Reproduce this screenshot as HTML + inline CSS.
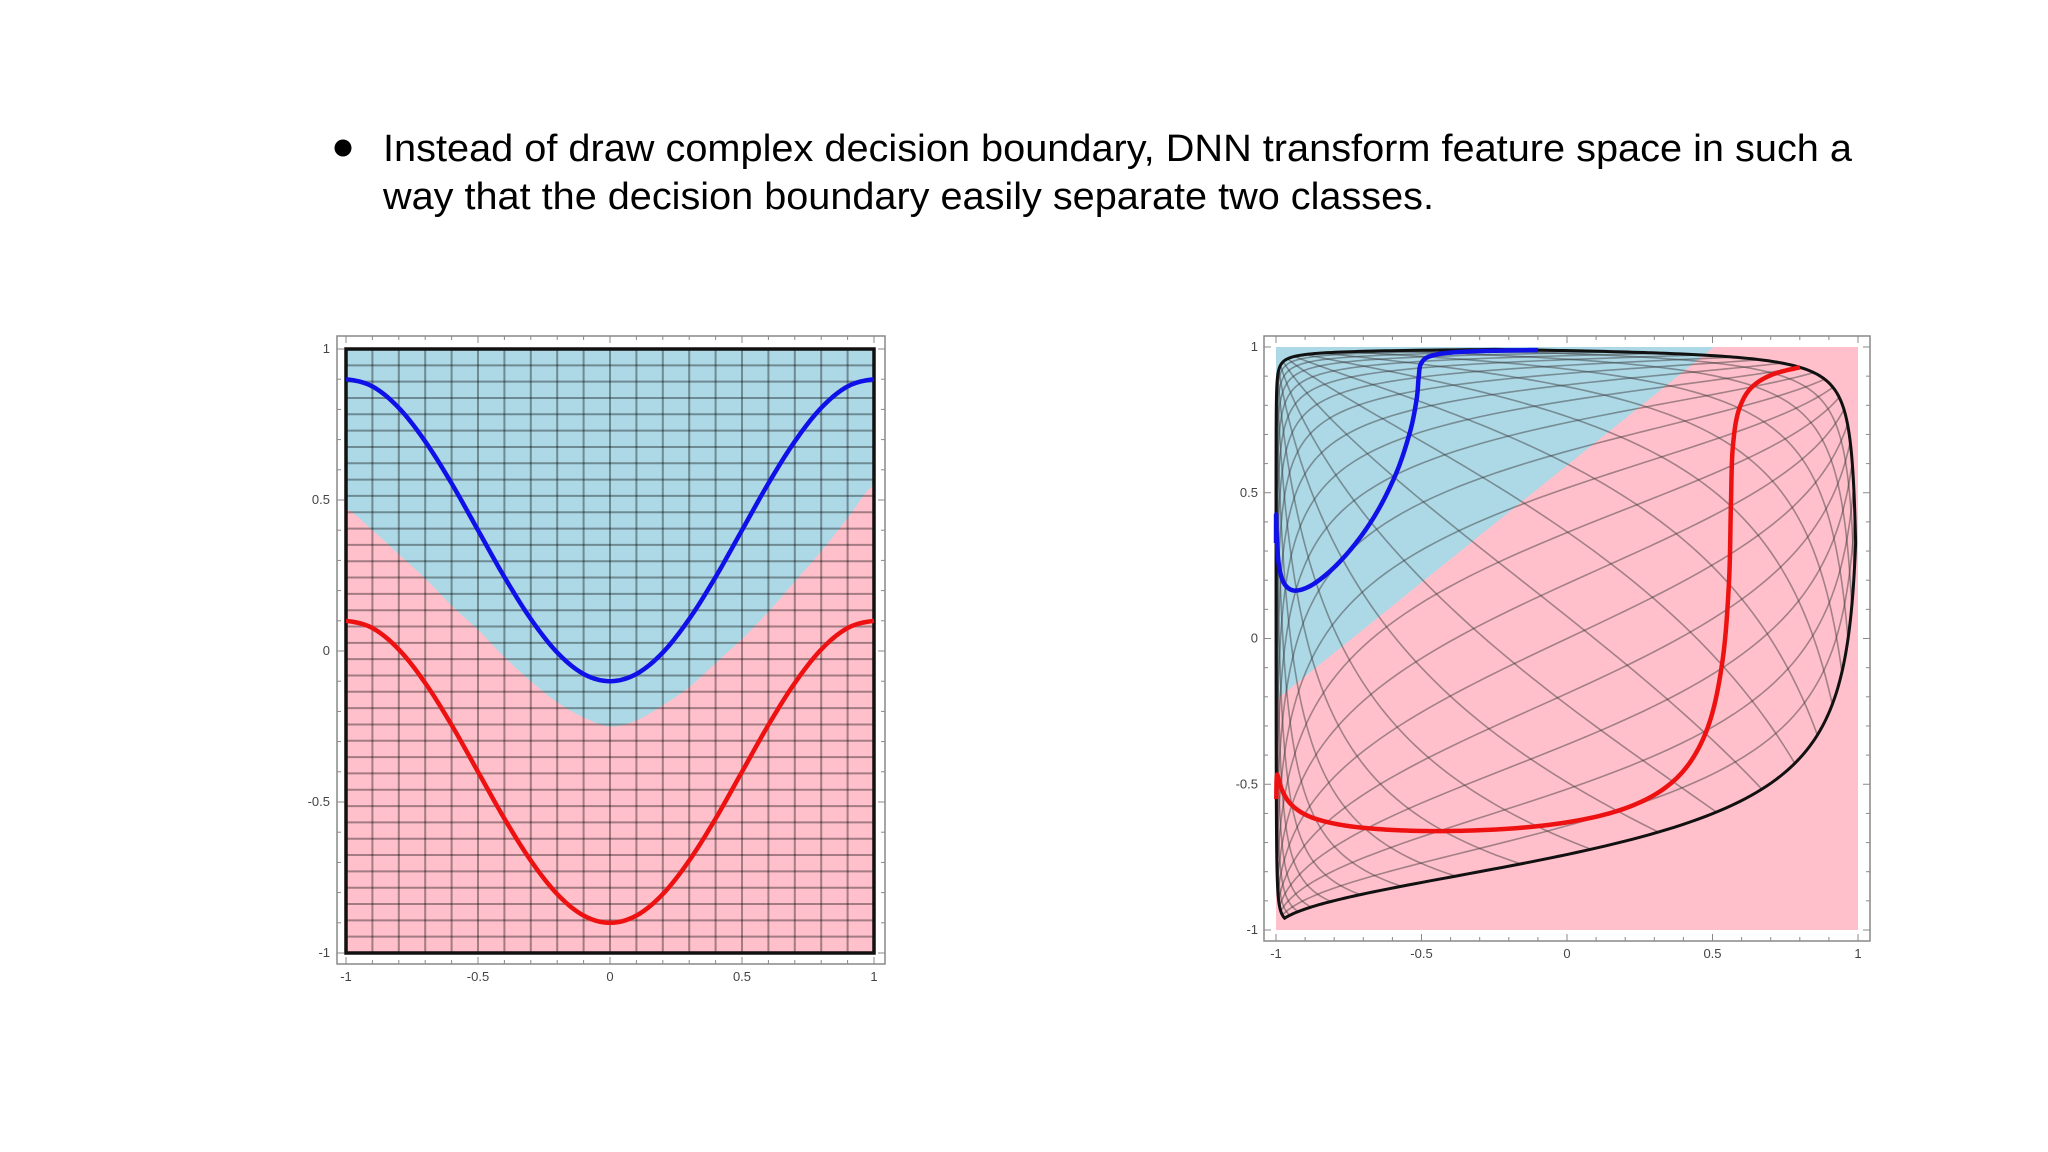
<!DOCTYPE html>
<html><head><meta charset="utf-8"><style>
html,body{margin:0;padding:0;background:#fff;}
svg{display:block;}
text{font-family:"Liberation Sans",Arial,sans-serif;}
</style></head><body>
<svg id="root" width="2048" height="1152" viewBox="0 0 2048 1152" xmlns="http://www.w3.org/2000/svg">
<rect x="0" y="0" width="2048" height="1152" fill="#ffffff"/>
<circle cx="343" cy="148" r="8.5" fill="#000"/>
<text x="383" y="161" font-size="38" fill="#000" textLength="1469" lengthAdjust="spacingAndGlyphs">Instead of draw complex decision boundary, DNN transform feature space in such a</text>
<text x="383" y="209" font-size="38" fill="#000" textLength="1051" lengthAdjust="spacingAndGlyphs">way that the decision boundary easily separate two classes.</text>
<g id="left"></g>
<g id="right"></g>
</svg>
<script>
// ---- data ----
const xsSrc = [-1,-0.9,-0.8,-0.7,-0.6,-0.5,-0.4,-0.3,-0.2,-0.1,0,0.1,0.2,0.3,0.4,0.5,0.6,0.7,0.8,0.9,1];
const blueSeries = [0.9,0.876,0.805,0.694,0.555,0.4,0.245,0.106,-0.005,-0.076,-0.1,-0.076,-0.005,0.106,0.245,0.4,0.555,0.694,0.805,0.876,0.9];
const redSeries = [0.1,0.076,0.005,-0.106,-0.245,-0.4,-0.555,-0.694,-0.805,-0.876,-0.9,-0.876,-0.805,-0.694,-0.555,-0.4,-0.245,-0.106,0.005,0.076,0.1];
const boundarySeries = [0.47,0.4,0.32,0.24,0.15,0.07,-0.02,-0.1,-0.17,-0.22,-0.25,-0.23,-0.18,-0.12,-0.04,0.04,0.13,0.23,0.33,0.44,0.55];
const rightBoundaryX = [-1,0.505];
const rightBoundaryY = [-0.21,1];
const tickValues = [-1,-0.5,0,0.5,1];
const tickLabels = ["-1","-0.5","0","0.5","1"];
// tanh layer parameters (bias, weight columns)
const layerBias = [-1.175,0.40];
const layerWx = [2.425,1.14];
const layerWy = [-1.5,1.2];

const NS="http://www.w3.org/2000/svg";
function mk(parent,tag,attrs){const e=document.createElementNS(NS,tag);for(const k in attrs)e.setAttribute(k,attrs[k]);parent.appendChild(e);return e;}
function poly(pts){return "M"+pts.map(p=>p[0].toFixed(2)+","+p[1].toFixed(2)).join("L");}
function dense(xs,ys,n){const out=[];for(let i=0;i<xs.length-1;i++){
  const y0=ys[i-1]!==undefined?ys[i-1]:ys[i],y1=ys[i],y2=ys[i+1],y3=ys[i+2]!==undefined?ys[i+2]:ys[i+1];
  for(let k=0;k<n;k++){const t=k/n;const x=xs[i]+(xs[i+1]-xs[i])*t;
   const y=0.5*((2*y1)+(-y0+y2)*t+(2*y0-5*y1+4*y2-y3)*t*t+(-y0+3*y1-3*y2+y3)*t*t*t);out.push([x,y]);}}
 out.push([xs[xs.length-1],ys[ys.length-1]]);return out;}
function layer(x,y){return [Math.tanh(layerBias[0]+x*layerWx[0]+y*layerWy[0]),Math.tanh(layerBias[1]+x*layerWx[1]+y*layerWy[1])];}

function frame(g,fx0,fy0,fx1,fy1,xs,ys,labY,labX,name){
 mk(g,"rect",{x:fx0,y:fy0,width:fx1-fx0,height:fy1-fy0,fill:"none",stroke:"#888","stroke-width":1.5,});
 for(let k=0;k<=20;k++){const v=-1+k*0.1;const major=k%5===0;const L=major?7:4;
  const px=xs(v),py=ys(v);
  mk(g,"line",{x1:px,y1:fy1,x2:px,y2:fy1-L,stroke:"#888","stroke-width":1,});
  mk(g,"line",{x1:px,y1:fy0,x2:px,y2:fy0+L,stroke:"#888","stroke-width":1,});
  mk(g,"line",{x1:fx0,y1:py,x2:fx0+L,y2:py,stroke:"#888","stroke-width":1,});
  mk(g,"line",{x1:fx1,y1:py,x2:fx1-L,y2:py,stroke:"#888","stroke-width":1,});}
 tickValues.forEach((v,i)=>{
  const t=mk(g,"text",{x:xs(v),y:labY,"font-size":13,fill:"#444","text-anchor":"middle"});t.textContent=tickLabels[i];
  
  
  const u=mk(g,"text",{x:labX,y:ys(v)+4,"font-size":13,fill:"#444","text-anchor":"end"});u.textContent=tickLabels[i];
  
  });
}

// ---- left chart ----
(function(){
 const g=document.getElementById("left");
 const X=v=>346+(v+1)/2*528, Y=v=>349+(1-v)/2*604;
 mk(g,"rect",{x:X(-1),y:Y(1),width:X(1)-X(-1),height:Y(-1)-Y(1),fill:"#ffc0cb",});
 const bpts=dense(xsSrc,boundarySeries,8).map(p=>[X(p[0]),Y(p[1])]);
 mk(g,"path",{d:poly(bpts)+"L"+X(1)+","+Y(1)+"L"+X(-1)+","+Y(1)+"Z",fill:"#add8e6",});
 for(let k=0;k<=20;k++){const v=-1+k*0.1;
  const l=mk(g,"line",{x1:X(v),y1:Y(1),x2:X(v),y2:Y(-1),stroke:"rgba(0,0,0,0.36)","stroke-width":2});
  
  }
 for(let k=0;k<=37;k++){const v=1-k*2/37;
  const l=mk(g,"line",{x1:X(-1),y1:Y(v),x2:X(1),y2:Y(v),stroke:"rgba(0,0,0,0.36)","stroke-width":2});
  
  }
 mk(g,"rect",{x:X(-1),y:Y(1),width:X(1)-X(-1),height:Y(-1)-Y(1),fill:"none",stroke:"#111","stroke-width":3.5,});
 mk(g,"path",{d:poly(dense(xsSrc,blueSeries,10).map(p=>[X(p[0]),Y(p[1])])),fill:"none",stroke:"#1010e8","stroke-width":4.5,"stroke-linejoin":"round",});
 mk(g,"path",{d:poly(dense(xsSrc,redSeries,10).map(p=>[X(p[0]),Y(p[1])])),fill:"none",stroke:"#ee1111","stroke-width":4.5,"stroke-linejoin":"round",});
 frame(g,337,336,885,964,X,Y,981,330,"left");
})();

// ---- right chart ----
(function(){
 const g=document.getElementById("right");
 const X=v=>1276+(v+1)/2*582, Y=v=>347+(1-v)/2*583;
 mk(g,"rect",{x:X(-1),y:Y(1),width:X(1)-X(-1),height:Y(-1)-Y(1),fill:"#ffc0cb",});
 mk(g,"path",{d:"M"+X(rightBoundaryX[0])+","+Y(rightBoundaryY[0])+"L"+X(rightBoundaryX[1])+","+Y(rightBoundaryY[1])+"L"+X(-1)+","+Y(1)+"Z",fill:"#add8e6",});
 const N=100;
 for(let k=0;k<=20;k++){const v=-1+k*0.1;
  const a=[],b=[];for(let j=0;j<=N;j++){const s=-1+2*j/N;const p=layer(v,s),q=layer(s,v);a.push([X(p[0]),Y(p[1])]);b.push([X(q[0]),Y(q[1])]);}
  const l1=mk(g,"path",{d:poly(a),fill:"none",stroke:"rgba(50,50,50,0.45)","stroke-width":1.6});
  
  
  const l2=mk(g,"path",{d:poly(b),fill:"none",stroke:"rgba(50,50,50,0.45)","stroke-width":1.6});
  
  }
 const border=[];const M=150;
 for(let j=0;j<=M;j++)border.push(layer(-1+2*j/M,-1));
 for(let j=0;j<=M;j++)border.push(layer(1,-1+2*j/M));
 for(let j=0;j<=M;j++)border.push(layer(1-2*j/M,1));
 for(let j=0;j<=M;j++)border.push(layer(-1,1-2*j/M));
 mk(g,"path",{d:poly(border.map(p=>[X(p[0]),Y(p[1])]))+"Z",fill:"none",stroke:"#111","stroke-width":3,});
 const bl=dense(xsSrc,blueSeries,16).map(p=>{const q=layer(p[0],p[1]);return [X(q[0]),Y(q[1])];});
 mk(g,"path",{d:poly(bl),fill:"none",stroke:"#1010e8","stroke-width":4.5,"stroke-linejoin":"round",});
 const rl=dense(xsSrc,redSeries,16).map(p=>{const q=layer(p[0],p[1]);return [X(q[0]),Y(q[1])];});
 mk(g,"path",{d:poly(rl),fill:"none",stroke:"#ee1111","stroke-width":4.5,"stroke-linejoin":"round",});
 frame(g,1264,336,1870,941,X,Y,958,1258,"right");
})();
</script>
</body></html>
